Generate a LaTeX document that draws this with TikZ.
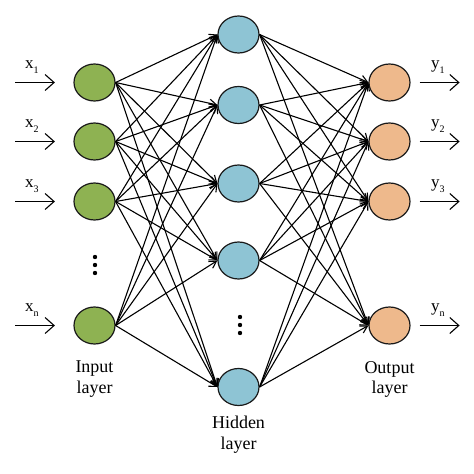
\documentclass[tikz,border=0pt]{standalone}
\usepackage{fontspec}
\setmainfont{Liberation Serif}
\usetikzlibrary{shapes.geometric,arrows.meta}
\definecolor{ingreen}{RGB}{142,178,82}
\definecolor{hidblue}{RGB}{142,196,212}
\definecolor{outorange}{RGB}{238,185,140}
\definecolor{edgecol}{RGB}{25,25,25}
\tikzset{
  neuron/.style={ellipse, draw=edgecol, line width=1.2pt, minimum width=41pt, minimum height=37pt, inner sep=0pt},
  inneuron/.style={neuron, fill=ingreen},
  hidneuron/.style={neuron, fill=hidblue},
  outneuron/.style={neuron, fill=outorange},
  conn/.style={draw=black, line width=1.1pt, -{Straight Barb[length=7pt,width=8pt]}},
  ioarrow/.style={draw=black, line width=1.1pt, -{Straight Barb[length=9pt,width=16pt]}},
  lbl/.style={font=\fontsize{17}{19}\selectfont, inner sep=0pt, anchor=base west},
  layerlbl/.style={font=\fontsize{18}{20.5}\selectfont, inner sep=0pt, align=center, anchor=north},
  vdot/.style={fill=black, circle, inner sep=0pt, minimum size=4.4pt}
}
\newcommand{\subl}[2]{#1\raisebox{-5pt}{\fontsize{10}{11}\selectfont #2}}
\begin{document}
\begin{tikzpicture}[x=1pt,y=-1pt]
\useasboundingbox (0,0) rectangle (474,474);
% input nodes
\node[inneuron] (i1) at (94.5,82.5) {};
\node[inneuron] (i2) at (94.5,141.5) {};
\node[inneuron] (i3) at (94.5,201.5) {};
\node[inneuron] (i4) at (94.5,325.5) {};
% hidden nodes
\node[hidneuron] (h1) at (238.5,34.5) {};
\node[hidneuron] (h2) at (238.5,105) {};
\node[hidneuron] (h3) at (238.5,183.5) {};
\node[hidneuron] (h4) at (238.5,260.5) {};
\node[hidneuron] (h5) at (238.5,387) {};
% output nodes
\node[outneuron] (o1) at (389.5,82.5) {};
\node[outneuron] (o2) at (389.5,141.5) {};
\node[outneuron] (o3) at (389.5,201.5) {};
\node[outneuron] (o4) at (389.5,325.5) {};
% connections
\foreach \a in {1,2,3,4}{
  \foreach \b in {1,2,3,4,5}{
    \draw[conn] (i\a.east) -- (h\b.west);
  }
}
\foreach \b in {1,2,3,4,5}{
  \foreach \c in {1,2,3,4}{
    \draw[conn] (h\b.east) -- (o\c.west);
  }
}
% input arrows
\coordinate (xs1) at (15,82.5);
\coordinate (xs2) at (15,141.5);
\coordinate (xs3) at (15,201.5);
\coordinate (xs4) at (15,325.5);
\foreach \k in {1,2,3,4}{
  \coordinate (xe\k) at ([xshift=-18.5pt]i\k.west);
  \draw[ioarrow] (xs\k) -- (xe\k);
}
% output arrows
\foreach \k in {1,2,3,4}{
  \coordinate (ys\k) at ([xshift=9pt]o\k.east);
  \coordinate (ye\k) at ([xshift=49pt]o\k.east);
  \draw[ioarrow] (ys\k) -- (ye\k);
}
% labels
\node[lbl] (lx1) at (25,68) {\subl{x}{1}};
\node[lbl] (lx2) at (25,127) {\subl{x}{2}};
\node[lbl] (lx3) at (25,187) {\subl{x}{3}};
\node[lbl] (lx4) at (25,311) {\subl{x}{n}};
\node[lbl] (ly1) at (431,68) {\subl{y}{1}};
\node[lbl] (ly2) at (431,127) {\subl{y}{2}};
\node[lbl] (ly3) at (431,187) {\subl{y}{3}};
\node[lbl] (ly4) at (431,311) {\subl{y}{n}};
% dots
\node[vdot] (di1) at (95,257) {};
\node[vdot] (di2) at (95,265) {};
\node[vdot] (di3) at (95,273) {};
\node[vdot] (dh1) at (240,317) {};
\node[vdot] (dh2) at (240,325) {};
\node[vdot] (dh3) at (240,333) {};
% layer labels
\node[layerlbl] (linput) at (94.5,361) {Input\\layer};
\node[layerlbl] (lhidden) at (238.5,416) {Hidden\\layer};
\node[layerlbl] (loutput) at (389.5,361) {Output\\layer};
\end{tikzpicture}
\end{document}
